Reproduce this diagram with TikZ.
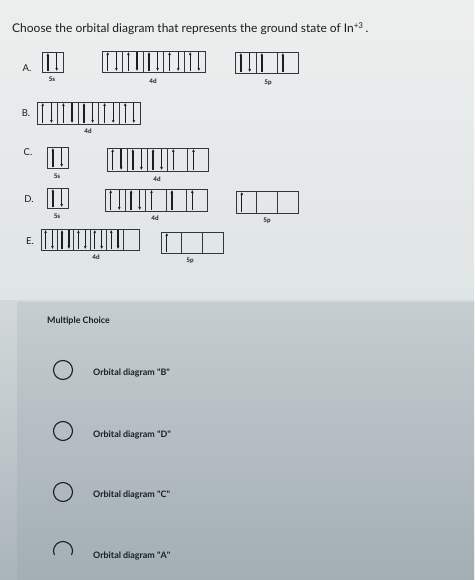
\documentclass[tikz,border=0pt]{standalone}
\usepackage{fontspec}
\setmainfont{Lato}
\usetikzlibrary{arrows.meta}
\definecolor{bgtop}{HTML}{EDEFEF}
\definecolor{bgmid}{HTML}{DFE4E4}
\definecolor{outtop}{HTML}{D3D9DA}
\definecolor{outbot}{HTML}{A9B4BA}
\definecolor{paneltop}{HTML}{C4CDCF}
\definecolor{panelbot}{HTML}{A3AEB5}
\definecolor{ink}{HTML}{1A1D21}
\definecolor{boxink}{HTML}{33373B}
\tikzset{
  obox/.style={draw=boxink, line width=0.75pt},
  spin/.style={draw=ink, line width=1.3pt, -{Stealth[length=3pt,width=2.8pt]}},
  lbl/.style={font=\bfseries\fontsize{6.3}{7}\selectfont, text=ink, inner sep=0pt},
  rowlbl/.style={font=\fontsize{9.5}{10}\selectfont, text=ink, inner sep=0pt},
  opt/.style={font=\bfseries\fontsize{8.9}{10}\selectfont, text=ink, inner sep=0pt, anchor=base west},
  radio/.style={circle, draw=ink, line width=1.1pt, minimum size=19pt, inner sep=0pt}
}
% #1 x, #2 y(top), #3 box width, #4 height, #5 spins list
\newcommand{\orbset}[5]{%
  \foreach \s [count=\i from 0] in {#5} {%
    \draw[obox] ({#1+\i*#3},#2) rectangle ++(#3,#4);
    \ifnum\s>0
      \draw[spin] ({#1+(\i+0.28)*#3},{#2+#4-1}) -- ({#1+(\i+0.28)*#3},{#2+1.2});
    \fi
    \ifnum\s=2
      \draw[spin] ({#1+(\i+0.70)*#3},{#2+1}) -- ({#1+(\i+0.70)*#3},{#2+#4-1.2});
    \fi
  }%
}
\begin{document}
\begin{tikzpicture}[x=1pt,y=-1pt]
\useasboundingbox (0,0) rectangle (474,580);
% backgrounds
\shade[top color=bgtop, bottom color=bgmid] (0,0) rectangle (474,302);
\shade[top color=outtop, bottom color=outbot] (0,300) rectangle (474,580);
\shade[top color=paneltop, bottom color=panelbot] (17,302) rectangle (474,580);
% title
\node[anchor=base west, inner sep=0pt, font=\fontsize{12}{13}\selectfont, text=ink] (title) at (12,33)
  {Choose the orbital diagram that represents the ground state of In\textsuperscript{+3}\,.};
% Row A
\node[rowlbl] (la) at (27,68) {A.};
\orbset{42}{52}{21}{20}{2}
\orbset{102}{51}{20.6}{21}{2,2,2,2,2}
\orbset{235}{52}{21}{21}{2,1,1}
\node[lbl] (a5s) at (52,79) {5s};
\node[lbl] (a4d) at (153,81) {4d};
\node[lbl] (a5p) at (268,83) {5p};
% Row B
\node[rowlbl] (lb) at (26,113) {B.};
\orbset{37}{102}{20.6}{22}{2,2,2,2,2}
\node[lbl] (b4d) at (88,131) {4d};
% Row C
\node[rowlbl] (lc) at (28,152) {C.};
\orbset{47}{147}{21}{21}{2}
\orbset{107}{148}{20.2}{23}{2,2,2,1,1}
\node[lbl] (c5s) at (57,176) {5s};
\node[lbl] (c4d) at (157,179) {4d};
% Row D
\node[rowlbl] (ld) at (29,199) {D.};
\orbset{47}{188}{21}{20}{2}
\orbset{105}{189}{20.4}{22}{2,2,1,1,1}
\orbset{236}{191}{20.7}{22}{1,0,0}
\node[lbl] (d5s) at (57,216) {5s};
\node[lbl] (d4d) at (155,218) {4d};
\node[lbl] (d5p) at (267,221) {5p};
% Row E
\node[rowlbl] (le) at (30,241) {E.};
\orbset{41}{229}{16.4}{21}{2,2,2,2,2,0}
\orbset{161}{232}{20.7}{21}{1,0,0}
\node[lbl] (e4d) at (96,257) {4d};
\node[lbl] (e5p) at (190,261) {5p};
% Multiple choice panel
\node[opt] (mc) at (47,323.5) {Multiple Choice};
\node[radio] (r1) at (63,370) {};
\node[opt] (o1) at (93,375) {Orbital diagram \textquotedbl B\textquotedbl};
\node[radio] (r2) at (63,431) {};
\node[opt] (o2) at (93,437) {Orbital diagram \textquotedbl D\textquotedbl};
\node[radio] (r3) at (63,492) {};
\node[opt] (o3) at (93,497) {Orbital diagram \textquotedbl C\textquotedbl};
\draw[draw=ink, line width=1.1pt] (63,551) ++(25:9.5) arc[start angle=25, end angle=-205, radius=9.5];
\node[opt] (o4) at (93,558) {Orbital diagram \textquotedbl A\textquotedbl};
\end{tikzpicture}
\end{document}
